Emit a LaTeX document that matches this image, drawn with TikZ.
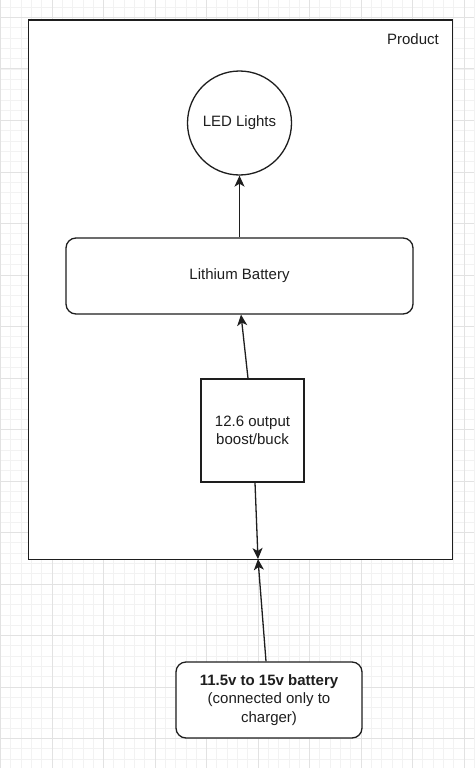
\documentclass[tikz,border=0pt]{standalone}
\usepackage{fontspec}
\setmainfont{Liberation Sans}
\usetikzlibrary{arrows.meta}
\definecolor{minorgrid}{HTML}{F2F2F2}
\definecolor{majorgrid}{HTML}{E2E2E2}
\definecolor{ink}{HTML}{1E1E1E}
\begin{document}
\begin{tikzpicture}[x=1pt,y=-1pt,
  every node/.style={font=\fontsize{15}{18.5}\selectfont, text=ink},
  box/.style={draw=ink, line width=1.3pt, fill=white, align=center, inner sep=0pt},
  conn/.style={draw=ink, line width=1.3pt, -{Stealth[length=11pt,width=10pt,inset=3pt]}}]
\useasboundingbox (0,0) rectangle (474,768);
\fill[white] (0,0) rectangle (474,768);
% grid
\foreach \i in {0,...,46} {\draw[minorgrid, line width=0.8pt] ({0.5+10.3*\i},0) -- ({0.5+10.3*\i},768);}
\foreach \i in {-1,...,73} {\draw[minorgrid, line width=0.8pt] (0,{17.5+10.3*\i}) -- (474,{17.5+10.3*\i});}
\foreach \i in {0,...,9} {\draw[majorgrid, line width=1pt] ({0.5+51.5*\i},0) -- ({0.5+51.5*\i},768);}
\foreach \i in {0,...,14} {\draw[majorgrid, line width=1pt] (0,{17.5+51.5*\i}) -- (474,{17.5+51.5*\i});}
% product
\node[box, minimum width=424pt, minimum height=539.5pt, anchor=north west] (product) at (28,19.5) {};
\node[anchor=east, inner sep=0pt] (plabel) at (439,39) {Product};
% nodes
\node[box, circle, minimum size=104pt] (led) at (239.5,123) {LED Lights};
\node[box, rounded corners=10pt, minimum width=347pt, minimum height=76pt] (lith) at (239.5,276) {Lithium Battery};
\node[box, minimum width=103pt, minimum height=103pt] (boost) at (252.5,430.5) {12.6 output\\boost/buck};
\node[box, rounded corners=10pt, minimum width=186pt, minimum height=76pt] (bat) at (269,700) {\textbf{11.5v to 15v battery}\\(connected only to\\charger)};
\coordinate (pin) at (258,559);
% connectors
\draw[conn] (lith.north) -- (led.south);
\draw[conn] ([xshift=-4.5pt]boost.north) -- ([xshift=1.5pt]lith.south);
\draw[conn] ([xshift=2.5pt]boost.south) -- (pin);
\draw[conn] ([xshift=-3pt]bat.north) -- (pin);
\end{tikzpicture}
\end{document}
